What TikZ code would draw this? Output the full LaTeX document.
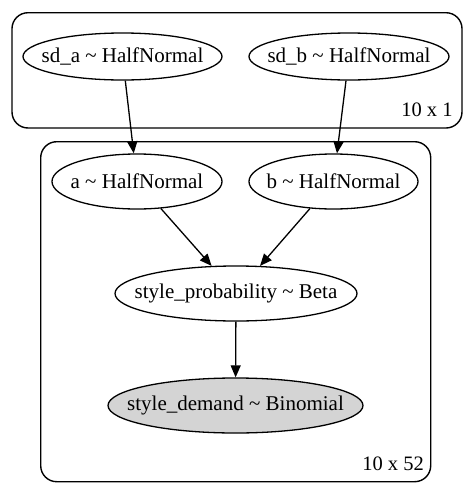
\documentclass[tikz,border=0pt]{standalone}
\usepackage{fontspec}
\setmainfont{Liberation Serif}
\usetikzlibrary{shapes.geometric,arrows.meta}
\tikzset{
  rv/.style={ellipse, draw, line width=1.3pt, inner sep=0pt, font=\fontsize{21}{25}\selectfont},
  obs/.style={rv, fill=black!17},
  plate/.style={draw, line width=1.4pt, rounded corners=16pt},
  platelabel/.style={anchor=base east, inner sep=0pt, font=\fontsize{20.5}{24}\selectfont},
  edge/.style={line width=1.3pt, -{Triangle[length=12pt,width=10pt]}}
}
\newcommand{\zw}[1]{\makebox[0pt]{#1}}
\begin{document}
\begin{tikzpicture}[x=1pt,y=-1pt]
\useasboundingbox (0,0) rectangle (474,488);
% plates
\draw[plate] (12,12.7) rectangle (462,128);
\node[platelabel] (l1) at (452.7,116.7) {10 x 1};
\draw[plate] (40.7,141.7) rectangle (430.7,481.7);
\node[platelabel] (l2) at (424,470) {10 x 52};
% nodes
\node[rv, minimum width=199pt, minimum height=47pt] (sda) at (122.5,56.5) {\zw{sd\_a \char`~{} HalfNormal}};
\node[rv, minimum width=200pt, minimum height=47pt] (sdb) at (349,56.5) {\zw{sd\_b \char`~{} HalfNormal}};
\node[rv, minimum width=170pt, minimum height=55pt] (a) at (137,181.5) {\zw{a \char`~{} HalfNormal}};
\node[rv, minimum width=169pt, minimum height=55pt] (b) at (333.5,181.5) {\zw{b \char`~{} HalfNormal}};
\node[rv, minimum width=242pt, minimum height=55pt] (sp) at (236,293.5) {\zw{style\_probability \char`~{} Beta}};
\node[obs, minimum width=255pt, minimum height=55pt] (sd) at (235.5,405.5) {\zw{style\_demand \char`~{} Binomial}};
% edges
\draw[edge] (sda) -- (a);
\draw[edge] (sdb) -- (b);
\draw[edge] (a) -- (sp);
\draw[edge] (b) -- (sp);
\draw[edge] (sp) -- (sd);
\end{tikzpicture}
\end{document}
